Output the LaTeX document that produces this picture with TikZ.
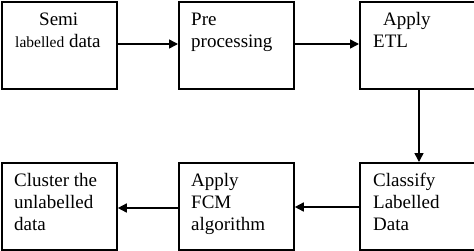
\documentclass[tikz,border=0pt]{standalone}
\usepackage{fontspec}
\setmainfont{Liberation Serif}
\usetikzlibrary{arrows.meta}
\begin{document}
\begin{tikzpicture}[x=1pt,y=-1pt,
  box/.style={draw=black,line width=1.8pt,minimum width=115pt,minimum height=87pt,inner sep=0pt,anchor=north west},
  txt/.style={anchor=base west,inner sep=0pt,font=\fontsize{19}{22}\selectfont},
  conn/.style={line width=1.5pt,-{Triangle[length=9pt,width=9pt]}}]
\useasboundingbox (0,0) rectangle (474,250);
% boxes
\node[box] (b1) at (1,1) {};
\node[box] (b2) at (178,1) {};
\node[box] (b3) at (359,1) {};
\node[box] (b4) at (359,162) {};
\node[box] (b5) at (178,162) {};
\node[box] (b6) at (1,162) {};
% texts
\node[txt] (t1a) at (39,25) {Semi};
\node[txt] (t1b) at (15,47) {{\fontsize{15.5}{18}\selectfont labelled} data};
\node[txt] (t2a) at (191,25) {Pre};
\node[txt] (t2b) at (191,47) {processing};
\node[txt] (t3a) at (383,25) {Apply};
\node[txt] (t3b) at (373,47) {ETL};
\node[txt,align=left] (t4) at (373,230) {Classify\\Labelled\\Data};
\node[txt,align=left] (t5) at (191,230) {Apply\\FCM\\algorithm};
\node[txt,align=left] (t6) at (14,230) {Cluster the\\unlabelled\\data};
% connectors
\draw[conn] (b1.east |- 0,44) -- (b2.west |- 0,44);
\draw[conn] (b2.east |- 0,44) -- (b3.west |- 0,44);
\draw[conn] (b3.south -| 419,0) -- (b4.north -| 419,0);
\draw[conn] (b4.west |- 0,207) -- (b5.east |- 0,207);
\draw[conn] (b5.west |- 0,208) -- (b6.east |- 0,208);
\end{tikzpicture}
\end{document}
